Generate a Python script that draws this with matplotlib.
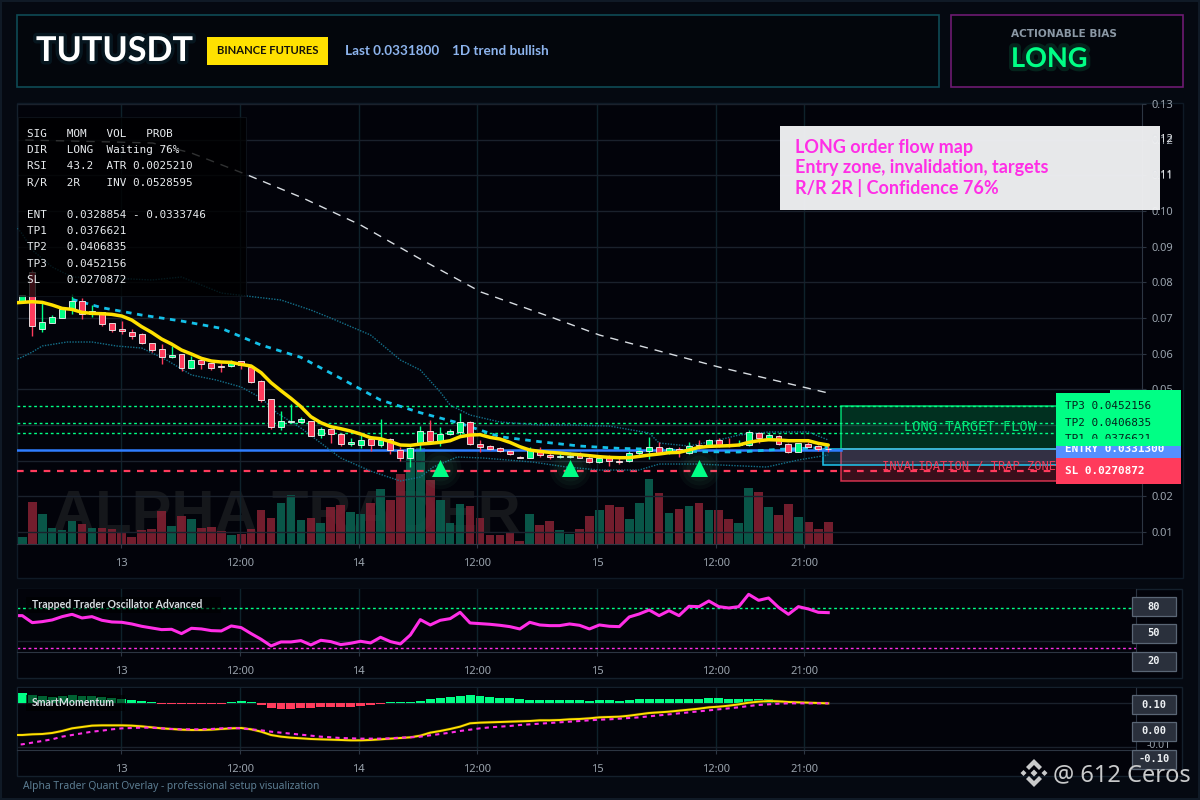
import numpy as np
import matplotlib
matplotlib.use('Agg')
import matplotlib.pyplot as plt
import matplotlib.patheffects as pe
from matplotlib.patches import Rectangle, Polygon

plt.rcParams['font.family'] = ['Noto Sans', 'DejaVu Sans']
MONO = 'DejaVu Sans Mono'
HEAD = 'Lato'

# candles, prices are in 1e-5 units
open_ = np.array([7439,8298,6700,6868,7009,7261,7467,7102,7177,6850,6682,6597,6541,6308,6121,5915,5981,5607,5813,5728,
    5644,5644,5784,5635,5224,4719,3953,4084,4084,4102,3729,3878,3738,3467,3448,3616,3448,3598,3289,3084,
    3486,3841,3560,3757,3813,4074,3458,3401,3345,3280,3112,3084,3280,3158,3112,3112,3168,3084,2953,3065,
    3000,2981,3205,3261,3373,3205,3336,3205,3439,3420,3588,3458,3430,3430,3785,3645,3701,3458,3252,3476,
    3411,3336]) / 1e5
close = np.array([7635,6784,6878,7018,7242,7467,7102,7186,6840,6672,6644,6504,6308,6102,5915,5953,5607,5813,5719,5607,
    5616,5738,5682,5214,4710,3953,4102,4112,4158,3701,3878,3738,3467,3514,3570,3448,3579,3289,3084,3345,
    3841,3560,3747,3822,4074,3458,3392,3336,3261,3196,3084,3299,3149,3112,3140,3140,3084,2953,3065,2981,
    2972,3205,3261,3373,3205,3345,3233,3420,3420,3588,3430,3439,3458,3794,3645,3710,3458,3252,3486,3392,
    3327,3317]) / 1e5
high = np.array([7635,8345,7410,7083,7317,7672,7560,7364,7177,6850,6925,6682,6588,6308,6270,6214,5981,5934,5859,5728,
    5747,5822,5803,5682,5261,4719,4392,4579,4224,4121,3953,3906,3766,3645,3719,3626,4158,3626,3392,3392,
    3972,4140,3953,3878,4345,4121,3579,3439,3392,3299,3130,3373,3373,3205,3205,3243,3243,3130,3130,3158,
    3130,3271,3317,3672,3532,3392,3373,3514,3579,3616,3635,3626,3579,3859,3813,3766,3719,3486,3504,3532,
    3439,3411]) / 1e5
low = np.array([7439,6504,6616,6868,7009,7111,6971,7037,6784,6616,6551,6411,6270,6055,5710,5869,5513,5570,5570,5541,
    5485,5635,5560,5177,4654,3887,3859,4074,4046,3701,3645,3486,3411,3420,3364,3271,3373,3187,3000,2813,
    3299,3532,3411,3710,3719,3439,3243,3299,3243,3158,3065,3065,3112,3056,3074,3074,3074,2944,2944,2859,
    2906,2962,3149,3056,3177,3187,3112,3187,3317,3392,3392,3392,3411,3411,3486,3607,3439,3224,3233,3373,
    3280,3243]) / 1e5

# the first value of each line sits one bar left of the first candle
ma_fast = np.array([7420,7439,7457,7439,7364,7270,7242,7158,7130,7121,7102,7055,6943,6756,6597,6411,6270,6102,5990,5869,5794,
    5766,5756,5700,5654,5467,5186,4962,4747,4514,4233,4065,3953,3897,3831,3747,3645,3616,3532,3439,3430,
    3467,3486,3514,3560,3672,3719,3729,3654,3607,3514,3392,3299,3261,3233,3215,3187,3168,3140,3112,3093,
    3084,3084,3121,3158,3187,3224,3233,3299,3373,3401,3411,3420,3439,3514,3560,3588,3579,3560,3560,3560,
    3486,3439]) / 1e5

ema_x = [5,8,12,16,20,24,28,32,36,40,44,48,52,56,60,64,68,72,76,81]
ema_y = np.array([7523,7289,7083,6915,6710,6242,5897,5308,4701,4345,4046,3672,3532,3411,3345,3317,3252,3243,3317,3373]) / 1e5

upper_x = [-1,0,1,3,5,9,13,16,20,26,29,31,35,38,40,42,43,45,48,52,55,59,63,64,67,70,72,75,79,81]
upper_y = np.array([9700,9354,8906,8429,8149,8121,8065,8149,7700,7504,7224,6999,6523,5822,5542,4925,4560,4280,4084,4000,4000,
    3972,3775,3495,3411,3579,3719,3804,3804,3579]) / 1e5
lower_x = [-1,0,1,2,4.5,7,9.5,12,14.5,17,19.5,22,24,25.6,28,30,32,35,38,40,41.3,43.7,46.3,51.3,54.7,58,62,64,68,74.8,78,81]
lower_y = np.array([5800,5906,6046,6215,6327,6327,6215,6158,5822,5402,5261,5065,4757,4336,3916,3495,3075,2710,2430,2542,2822,
    3103,3075,2962,2822,2738,2738,2906,2906,2822,3019,3159]) / 1e5
slow_x = [0.3,9.3,13.1,17,22.65,28.2,34,40,46.1,53.4,58,70,81]
slow_y = np.array([11990,11934,11906,11625,11008,10364,9607,8654,7728,6999,6523,5626,4897]) / 1e5

volume = [7,42,30,16,14,23,20,16,16,15,11,7,14,15,33,18,28,25,16,17,13,9,10,15,34,26,41,49,24,26,21,37,39,32,30,41,55,44,70,
    96,96,64,44,21,40,38,26,9,9,12,3,30,19,23,14,10,15,28,34,39,37,25,41,65,51,31,35,38,41,34,34,25,21,56,52,37,29,40,27,22,15,22]
vol_dir = 'grggggrgrrrrrrrgrgrrrgrrrrgggrgrrggrgrr' + 'ggrgggrrrrrrgrrggrrgrrgggrgrgrgrrggrgrrgrrr'

signal_bars = [42, 55, 68]
signal_price = 0.02805

tp3, tp2, tp1 = 0.0452156, 0.0406835, 0.0376621
entry, sl = 0.03313, 0.0270872
zone_mid = 0.03327
zone_low = 0.02438
entry_low = 0.02887

rsi = [69,69,58.5,60,62.5,67.5,71,65.5,67.5,62,59.5,59,56.5,53,50.5,48,48.5,42,50,49,46.5,
    46,53.5,51,42,33.5,23.5,29.5,29.5,31.5,25,32,30,25.5,27.5,30.5,28,36.5,30,26.5,40,
    63,55,62,64.5,74,58,57,56,54.5,52.5,49,59,55,54,54,56.5,54.5,49,55,53,
    52.5,67,71.5,77.5,69,76.5,69,83,82.5,91,82.5,80.5,82.5,101,92,95.5,81.5,71,82.5,79,74,73.5]

# momentum values are in 1e-5 units
mom_hist = np.array([238,192,169,146,162,185,169,169,138,115,100,77,54,31,-15,-8,-23,-23,-15,-8,-8,23,46,23,-38,-108,-123,-131,-115,-108,
    -92,-85,-85,-77,-69,-46,-23,23,23,23,46,92,115,146,169,192,169,146,131,115,100,77,77,77,77,77,77,62,77,69,
    54,77,100,100,100,100,100,100,100,115,123,100,100,100,100,100,77,54,38,23,15,8]) / 1e5
mom_line = np.array([-731,-731,-715,-708,-684,-638,-577,-546,-515,-508,-508,-508,-515,-531,-554,-577,-592,-608,-615,-615,-608,
    -592,-577,-569,-600,-654,-731,-769,-792,-807,-823,-831,-838,-846,-854,-854,-846,-831,-815,-800,-784,
    -746,-677,-638,-592,-538,-461,-446,-438,-431,-423,-415,-408,-392,-392,-385,-369,-361,-346,-323,-315,
    -308,-285,-254,-223,-208,-192,-169,-146,-123,-92,-77,-54,-23,15,38,54,46,31,23,15,8,0]) / 1e5
mom_sig = np.array([-960,-946,-907,-869,-831,-769,-731,-692,-654,-631,-600,-577,-569,-561,-561,-577,-592,-600,-600,-600,-592,
    -577,-569,-577,-600,-623,-654,-677,-700,-723,-746,-769,-784,-800,-807,-815,-815,-815,-807,-792,-784,
    -769,-738,-708,-677,-638,-608,-577,-554,-538,-523,-500,-485,-469,-454,-438,-423,-408,-392,-377,-369,
    -354,-338,-323,-300,-277,-254,-231,-208,-185,-162,-138,-115,-92,-62,-38,-23,-8,0,0,0,0,0]) / 1e5

tick_pos = [9.95, 21.88, 33.8, 45.72, 57.76, 69.68, 78.6]
tick_labels = ['13', '12:00', '14', '12:00', '15', '12:00', '21:00']
price_ticks = [0.01,0.02,0.03,0.04,0.05,0.06,0.07,0.08,0.09,0.10,0.11,0.12,0.13]

info_lines = [('SIG   MOM   VOL   PROB', 134), ('DIR   LONG  Waiting 76%', 150), ('RSI   43.2  ATR 0.0025210', 166),
    ('R/R   2R    INV 0.0528595', 183), ('ENT   0.0328854 - 0.0333746', 215), ('TP1   0.0376621', 231),
    ('TP2   0.0406835', 247), ('TP3   0.0452156', 264), ('SL    0.0270872', 280)]

GREEN = '#00ff85'
RED = '#ff3b5c'
MAGENTA = '#ff2ee6'
YELLOW = '#ffe100'
GRID_H = '#1a212c'
GRID_V = '#0e222b'
AXIS = '#2c3542'
LABEL = '#9aa3ad'

x = np.arange(len(open_))
x_lead = np.arange(-1, len(open_))


def rect(x0, y0, x1, y1):
    # pixel box (top left origin) to figure fraction
    return [x0 / 1200, 1 - y1 / 800, (x1 - x0) / 1200, (y1 - y0) / 800]


def style_axes(ax, right_px):
    ax.set_xlim(-0.533, (right_px - 22.3) / 9.95)
    ax.set_xticks(tick_pos)
    ax.set_xticklabels(tick_labels, color=LABEL, fontsize=8)
    ax.tick_params(axis='x', length=3, color=AXIS, pad=7)
    ax.yaxis.tick_right()
    ax.grid(axis='x', color=GRID_V, lw=1)
    ax.grid(axis='y', color=GRID_H, lw=1)
    ax.set_axisbelow(True)
    ax.spines['top'].set_visible(False)
    ax.spines['left'].set_color('#15202c')
    ax.spines['right'].set_color(AXIS)
    ax.spines['bottom'].set_color(AXIS)


fig = plt.figure(figsize=(12, 8), dpi=100, facecolor='#050911')

# background panels and rims
bg = fig.add_axes([0, 0, 1, 1], zorder=0)
bg.set_xlim(0, 1200)
bg.set_ylim(800, 0)
bg.axis('off')
bg.add_patch(Rectangle((1, 1), 1198, 798, fc='none', ec='#101a26', lw=1.5))
bg.add_patch(Rectangle((17, 15), 922, 72, fc='#03060c', ec='#0e4a55', lw=1.2))
bg.add_patch(Rectangle((951, 15), 232, 72, fc='#03060c', ec='#6d1a72', lw=1.2))
bg.add_patch(Rectangle((17, 103), 1166, 475, fc='#02030a', ec='#0f1a26', lw=1))
bg.add_patch(Rectangle((17, 589), 1165, 89, fc='#02030a', ec='#14202c', lw=1))
bg.add_patch(Rectangle((17, 687), 1165, 89, fc='#02030a', ec='#14202c', lw=1))

# volume and the watermark sit under the price axes
vol_ax = fig.add_axes(rect(17, 104, 1142, 544), zorder=1)
vol_ax.set_xlim(-0.533, (1142 - 22.3) / 9.95)
vol_ax.set_ylim(0, 440)
vol_ax.axis('off')
vol_ax.text(3.0, 0, 'ALPHA TRADER', color='#15171b', fontsize=43, fontweight='bold', family='Liberation Sans',
            va='bottom', ha='left', zorder=1)
vol_cols = ['#0a6050' if d == 'g' else '#802032' for d in vol_dir]
vol_ax.bar(x, volume, width=0.87, color=vol_cols, alpha=0.9, zorder=2)

# main price panel
ax = fig.add_axes(rect(17, 104, 1142, 544), zorder=2)
style_axes(ax, 1142)
ax.patch.set_visible(False)
ax.set_ylim(0.00664, 0.13)
ax.set_yticks(price_ticks)
ax.set_yticklabels(['%.2f' % t for t in price_ticks], color=LABEL, fontsize=8)
ax.tick_params(axis='y', length=3, color=AXIS, pad=3.5)

ax.add_patch(Rectangle((82.3, zone_mid), 22, tp3 - zone_mid, fc=GREEN, alpha=0.18, zorder=3))
ax.add_patch(Rectangle((82.3, zone_mid), 22, tp3 - zone_mid, fc='none', ec=GREEN, lw=1.1, alpha=0.8, zorder=3))
ax.add_patch(Rectangle((82.3, zone_low), 22, zone_mid - zone_low, fc=RED, alpha=0.22, zorder=3))
ax.add_patch(Rectangle((82.3, zone_low), 22, zone_mid - zone_low, fc='none', ec=RED, lw=1.1, alpha=0.8, zorder=3))
ax.add_patch(Rectangle((80.5, entry_low), 23.8, zone_mid - entry_low, fc='#1fa8d8', alpha=0.22, zorder=3))
ax.add_patch(Rectangle((80.5, entry_low), 23.8, zone_mid - entry_low, fc='none', ec='#1ec8f0', lw=1.1, zorder=3))

for level in (tp3, tp2, tp1):
    ax.plot([-0.533, 104], [level, level], color=GREEN, lw=1, ls=(0, (2, 2)), zorder=3)
ax.plot([-0.533, 82.3], [entry, entry], color='#2f7dff', lw=1.8, zorder=3)
ax.plot([-0.533, 104], [sl, sl], color=RED, lw=1.6, ls=(0, (3, 3)), zorder=3)

ax.plot(upper_x, upper_y, color='#14708a', lw=1, ls=(0, (1, 1)), zorder=4)
ax.plot(lower_x, lower_y, color='#14708a', lw=1, ls=(0, (1, 1)), zorder=4)
ax.plot(slow_x, slow_y, color='#d8dde2', lw=1, ls=(0, (6, 5)), zorder=4)
ax.plot(ema_x, ema_y, color='#14c0e8', lw=2, ls=(0, (2, 2)), zorder=4)

for i in x:
    up = close[i] >= open_[i]
    col = GREEN if up else RED
    ax.plot([i, i], [low[i], high[i]], color=col, lw=1, zorder=5, solid_capstyle='butt')
    bottom = min(open_[i], close[i])
    ax.add_patch(Rectangle((i - 0.3, bottom), 0.6, abs(close[i] - open_[i]),
                           fc=col, ec='#f4f4f4', lw=0.6, zorder=6))

ax.plot(x_lead, ma_fast, color=YELLOW, lw=2.5, zorder=7, solid_capstyle='round')

for s in (900, 600, 350):
    ax.scatter(signal_bars, [signal_price] * 3, s=s, color='#60ffb0', alpha=0.035, lw=0, zorder=7)
ax.scatter(signal_bars, [signal_price] * 3, marker='^', s=150, color=GREEN, lw=0, zorder=8)

# oscillator panel
ax2 = fig.add_axes(rect(17, 589, 1136, 652), zorder=1)
style_axes(ax2, 1136)
ax2.set_facecolor('#02030a')
ax2.set_ylim(14.4, 109)
ax2.set_yticks([31])
ax2.set_yticklabels([''])
ax2.tick_params(axis='y', length=0)
ax2.axhline(80, color=GREEN, lw=1, ls=(0, (2, 2)))
ax2.axhline(20, color=MAGENTA, lw=1, ls=(0, (2, 2)))
ax2.plot(x_lead, rsi, color=MAGENTA, lw=2.2)

# momentum panel
ax3 = fig.add_axes(rect(17, 688, 1136, 750), zorder=1)
style_axes(ax3, 1136)
ax3.set_facecolor('#02030a')
ax3.set_ylim(-0.01077, 0.00354)
ax3.set_yticks([0, -0.01])
ax3.set_yticklabels(['', ''])
ax3.tick_params(axis='y', length=0)
ax3.bar(x, mom_hist, width=0.9, color=[GREEN if v >= 0 else RED for v in mom_hist], zorder=2)
ax3.plot(x_lead, mom_line, color='#3a2f00', lw=2.2, zorder=3)
ax3.plot(x_lead, mom_line, color=YELLOW, lw=1.4, zorder=3)
ax3.plot(x_lead, mom_sig, color=MAGENTA, lw=1.5, ls=(0, (2, 2)), zorder=4)

# everything drawn in pixels on top
ov = fig.add_axes([0, 0, 1, 1], zorder=5)
ov.set_xlim(0, 1200)
ov.set_ylim(800, 0)
ov.axis('off')
ov.patch.set_visible(False)

glow = [pe.withStroke(linewidth=5, foreground='#0b2a38', alpha=0.45)]
ov.text(36, 51, 'TUTUSDT', color='white', fontsize=24.6, fontweight='bold', family=HEAD, va='center', path_effects=glow)
ov.add_patch(Rectangle((207, 37), 121, 28, fc=YELLOW, ec='none'))
ov.text(267.5, 51, 'BINANCE FUTURES', color='#14120a', fontsize=8.1, fontweight='bold', family=HEAD, ha='center', va='center')
ov.text(345, 51, 'Last 0.0331800', color='#8db4ee', fontsize=9.7, fontweight='bold', family=HEAD, va='center')
ov.text(452, 51, '1D trend bullish', color='#8db4ee', fontsize=9.7, fontweight='bold', family=HEAD, va='center')
ov.text(1011, 34, 'ACTIONABLE BIAS', color='#8b98a5', fontsize=7.6, fontweight='bold', family='DejaVu Sans', va='center')
ov.text(1011, 59, 'LONG', color=GREEN, fontsize=19.5, fontweight='bold', family=HEAD, va='center',
        path_effects=[pe.withStroke(linewidth=6, foreground='#063d2a', alpha=0.55)])

# info table
ov.add_patch(Rectangle((18, 117), 228, 179, fc='#000000', alpha=0.78, ec='#10161e', lw=0.8))
for line, y in info_lines:
    ov.text(27, y, line, color='#e8ebee', fontsize=7.9, family=MONO, va='center')

# callout, the price labels still show through it
ov.add_patch(Rectangle((780, 126), 380, 84, fc='#f0f1f3', ec='none', alpha=0.97))
for t in (0.12, 0.11):
    ov.text(1151, 532 - (t - 0.01) * 3567, '%.2f' % t, color='#e4e6e9', fontsize=8, va='center')
for line, y in [('LONG order flow map', 147), ('Entry zone, invalidation, targets', 168), ('R/R 2R | Confidence 76%', 188)]:
    ov.text(795, y, line, color=MAGENTA, fontsize=13, fontweight='bold', family=HEAD, va='center')

# zone captions
ov.text(970, 427, 'LONG TARGET FLOW', color='#00e878', fontsize=9.8, family=MONO, ha='center', va='center')
ov.text(969.5, 466, 'INVALIDATION / TRAP ZONE', color='#f03a58', fontsize=8.7, family=MONO, ha='center', va='center')

# right side price labels
ov.add_patch(Rectangle((1110, 390), 71, 6, fc=GREEN, ec='none'))
ov.add_patch(Rectangle((1056, 393), 125, 53, fc=GREEN, ec='none'))
ov.text(1065, 406, 'TP3 0.0452156', color='#04231c', fontsize=7.9, family=MONO, va='center')
ov.text(1065, 423, 'TP2 0.0406835', color='#04231c', fontsize=7.9, family=MONO, va='center')
ov.text(1065, 439.5, 'TP1 0.0376621', color='#04231c', fontsize=7.9, family=MONO, va='center')
ov.add_patch(Rectangle((1056, 438.5), 125, 8, fc=GREEN, ec='none', zorder=3))
ov.add_patch(Rectangle((1056, 446), 125, 12, fc='#5590ff', ec='none', zorder=3))
ov.text(1065, 449.5, 'ENTRY 0.0331300', color='white', fontsize=7.9, fontweight='bold', family=MONO, va='center', zorder=3)
ov.add_patch(Rectangle((1056, 438.5), 125, 7.5, fc=GREEN, ec='none', zorder=4))
ov.add_patch(Rectangle((1056, 457.7), 125, 26.3, fc=RED, ec='none', zorder=4))
ov.text(1065, 471, 'SL 0.0270872', color='white', fontsize=7.9, fontweight='bold', family=MONO, va='center', zorder=5)

# panel captions
ov.add_patch(Rectangle((26, 597), 195, 16, fc='#000000', alpha=0.55, ec='none'))
ov.text(32, 605, 'Trapped Trader Oscillator Advanced', color='#d8dde2', fontsize=7.6, fontweight='bold', family=HEAD, va='center')
ov.add_patch(Rectangle((26, 695), 99, 16, fc='#000000', alpha=0.62, ec='none'))
ov.text(32, 703, 'SmartMomentum', color='#d8dde2', fontsize=7.6, fontweight='bold', family=HEAD, va='center')

ov.text(1158, 642, '25.00', color=LABEL, fontsize=7.5, ha='center', va='center')
ov.text(1159, 746, '-0.01', color=LABEL, fontsize=7.5, ha='center', va='center')
for label, y0 in [('80', 597), ('50', 624), ('20', 652), ('0.10', 695), ('0.00', 722), ('-0.10', 750)]:
    ov.add_patch(Rectangle((1132, y0), 44, 19, fc='#2a303c', ec='#5a6675', lw=0.9, zorder=3))
    ov.text(1154, y0 + 9.5, label, color='#eef1f4', fontsize=7.5, fontweight='bold', family=MONO,
            ha='center', va='center', zorder=4)

ov.text(23, 787, 'Alpha Trader Quant Overlay - professional setup visualization', color='#5c7d92', fontsize=7.4, va='center')

# watermark with the diamond logo
cx, cy = 1034, 773
wm = '#c9cacb'
ov.add_patch(Polygon([(cx - 3.5, cy), (cx, cy - 3.5), (cx + 3.5, cy), (cx, cy + 3.5)], fc=wm, ec='none'))
for dx in (-10.5, 10.5):
    ov.add_patch(Polygon([(cx + dx - 3, cy), (cx + dx, cy - 3), (cx + dx + 3, cy), (cx + dx, cy + 3)], fc=wm, ec='none'))
ov.add_patch(Polygon([(cx, cy - 14), (cx + 8, cy - 6), (cx + 5, cy - 3), (cx, cy - 8), (cx - 5, cy - 3), (cx - 8, cy - 6)], fc=wm, ec='none'))
ov.add_patch(Polygon([(cx, cy + 14), (cx + 8, cy + 6), (cx + 5, cy + 3), (cx, cy + 8), (cx - 5, cy + 3), (cx - 8, cy + 6)], fc=wm, ec='none'))
ov.text(1053, 775, '@ 612 Ceros', color=wm, fontsize=17, va='center')

fig.savefig('out.png', dpi=100, facecolor=fig.get_facecolor())
